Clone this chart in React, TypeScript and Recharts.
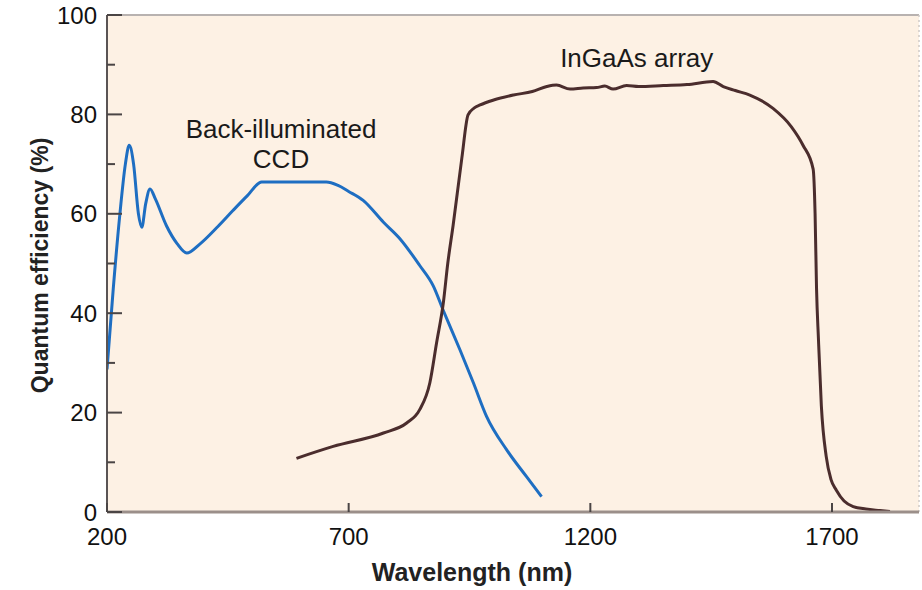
import React from 'react'
import {
  LineChart,
  Line,
  XAxis,
  YAxis,
  CartesianGrid,
  ReferenceLine,
  ReferenceDot,
  Label,
} from 'recharts'

// Back-illuminated CCD quantum efficiency
const ccdWavelength = [
  200, 213, 227, 238, 246, 255, 265, 272, 280, 289, 300, 323, 345, 365, 392, 430, 461, 490, 520,
  560, 600, 654, 678, 700, 730, 772, 806, 847, 875, 896, 930, 958, 985, 1027, 1068, 1099,
]
const ccdQE = [
  28.7, 45, 60.3, 70, 73.8, 70, 60, 57.3, 62, 65, 63, 57.6, 54, 52.1, 53.9, 57.5, 60.7, 63.6, 66.4,
  66.4, 66.4, 66.4, 65.7, 64.5, 62.7, 58.3, 55, 49.6, 45.5, 40.5, 32.7, 26, 19.3, 12.5, 7.1, 3.1,
]

// InGaAs array quantum efficiency
const ingaasWavelength = [
  592, 668, 772, 820, 847, 868, 882, 896, 905, 916, 934, 947, 960, 972, 1000, 1041, 1080, 1110,
  1130, 1158, 1185, 1213, 1230, 1247, 1275, 1300, 1351, 1400, 1454, 1475, 1500, 1530, 1578, 1616,
  1640, 1661, 1665, 1668, 1672, 1678, 1688, 1698, 1709, 1725, 1744, 1770, 1799, 1820,
]
const ingaasQE = [
  10.8, 13.2, 15.9, 17.9, 20.6, 26, 34.1, 42.2, 50, 57.6, 71.1, 79.9, 81.3, 81.9, 82.9, 83.9, 84.6,
  85.6, 85.9, 85.1, 85.3, 85.4, 85.7, 85.1, 85.8, 85.6, 85.8, 86, 86.6, 85.6, 84.8, 83.9, 81.2,
  77.5, 73.8, 69, 60, 45, 34.7, 21.3, 11.2, 6.5, 4.4, 2.2, 1.1, 0.6, 0.3, 0.1,
]

const xTicks = [200, 700, 1200, 1700]
const yTicks = [0, 10, 20, 30, 40, 50, 60, 70, 80, 90, 100]
const yLabels = [0, 20, 40, 60, 80, 100]

const ccdData = ccdWavelength.map((w, i) => ({ w, qe: ccdQE[i] }))
const ingaasData = ingaasWavelength.map((w, i) => ({ w, qe: ingaasQE[i] }))

const FONT = '"Liberation Sans", Arial, Helvetica, sans-serif'

function YTick(props: any) {
  const { x, y, payload } = props
  const major = yLabels.includes(payload.value)
  return (
    <g>
      <line x1={x} x2={x + (major ? 15 : 8)} y1={y} y2={y} stroke="#4a4545" strokeWidth={2} />
      {major && (
        <text x={x - 10} y={y} dy="0.36em" textAnchor="end" fontSize={24} fill="#111" fontFamily={FONT}>
          {payload.value}
        </text>
      )}
    </g>
  )
}

function XTick(props: any) {
  const { x, y, payload } = props
  return (
    <g>
      <line x1={x} x2={x} y1={y} y2={y - 9} stroke="#4a4545" strokeWidth={2} />
      <text x={x} y={y + 33} textAnchor="middle" fontSize={24} fill="#111" fontFamily={FONT}>
        {payload.value}
      </text>
    </g>
  )
}

export default function App() {
  return (
    <div style={{ position: 'absolute', left: 0, top: 0, width: 922, height: 590, background: '#fff' }}>
      <LineChart
        width={922}
        height={590}
        margin={{ top: 15, right: 3, left: 0, bottom: 0 }}
        style={{ fontFamily: FONT }}
      >
        <CartesianGrid horizontal={false} vertical={false} fill="#fdf1e4" />
        <XAxis
          type="number"
          dataKey="w"
          domain={[200, 1880]}
          ticks={xTicks}
          allowDataOverflow
          height={78}
          tickSize={0}
          tickMargin={0}
          tickLine={false}
          tick={<XTick />}
          axisLine={{ stroke: '#9b8f8a', strokeWidth: 3 }}
        >
          <Label
            content={({ viewBox }: any) => (
              <text
                x={viewBox.x + viewBox.width / 2 - 41}
                y={viewBox.y + 69}
                textAnchor="middle"
                fontSize={25}
                fontWeight="bold"
                fill="#222"
                fontFamily={FONT}
              >
                Wavelength (nm)
              </text>
            )}
          />
        </XAxis>
        <YAxis
          type="number"
          dataKey="qe"
          domain={[0, 100]}
          ticks={yTicks}
          width={107}
          tickSize={0}
          tickMargin={0}
          tickLine={false}
          tick={<YTick />}
          interval={0}
          axisLine={{ stroke: '#5a5454', strokeWidth: 2 }}
        >
          <Label
            content={({ viewBox }: any) => {
              const cx = viewBox.x + 40
              const cy = viewBox.y + viewBox.height / 2 + 2
              return (
                <text
                  x={cx}
                  y={cy}
                  transform={`rotate(-90 ${cx} ${cy})`}
                  textAnchor="middle"
                  dominantBaseline="central"
                  fontSize={23}
                  fontWeight="bold"
                  fill="#222"
                  fontFamily={FONT}
                >
                  Quantum efficiency (%)
                </text>
              )
            }}
          />
        </YAxis>
        <ReferenceLine y={100} stroke="#b8b2b0" strokeWidth={2} />
        <ReferenceLine x={1880} stroke="#cfcac6" strokeWidth={1.5} strokeDasharray="2 3" />
        <Line
          data={ccdData}
          dataKey="qe"
          type="monotone"
          stroke="#1e6ec2"
          strokeWidth={3}
          dot={false}
          isAnimationActive={false}
        />
        <Line
          data={ingaasData}
          dataKey="qe"
          type="monotone"
          stroke="#4b2d2d"
          strokeWidth={3}
          dot={false}
          isAnimationActive={false}
        />
        <ReferenceDot x={560} y={77.2} r={0} fill="none" stroke="none">
          <Label value="Back-illuminated" position="center" fontSize={26} fill="#1a1a1a" />
        </ReferenceDot>
        <ReferenceDot x={560} y={71.1} r={0} fill="none" stroke="none">
          <Label value="CCD" position="center" fontSize={26} fill="#1a1a1a" />
        </ReferenceDot>
        <ReferenceDot x={1296} y={91.3} r={0} fill="none" stroke="none">
          <Label value="InGaAs array" position="center" fontSize={26} fill="#1a1a1a" />
        </ReferenceDot>
      </LineChart>
    </div>
  )
}
